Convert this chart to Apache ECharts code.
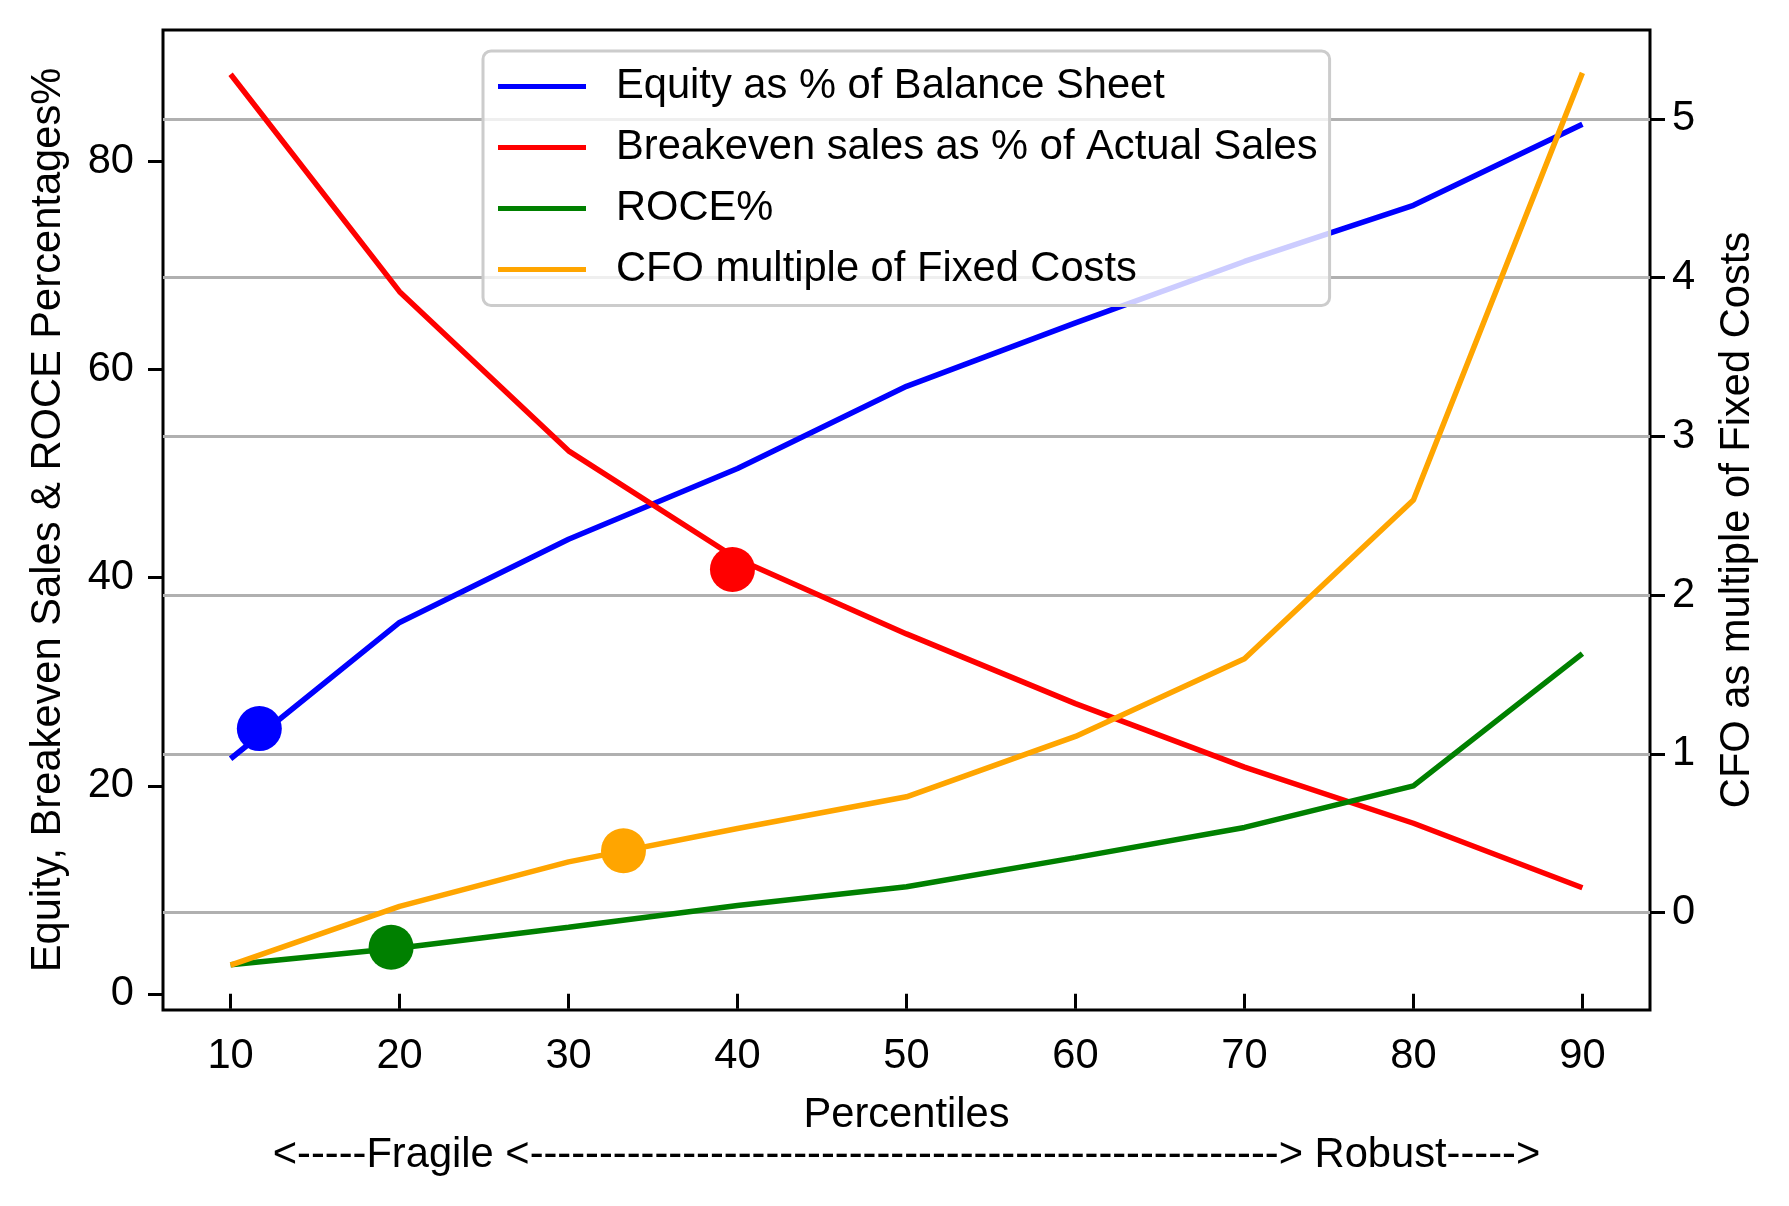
<!DOCTYPE html>
<html>
<head>
<meta charset="utf-8">
<title>Percentiles chart</title>
<script src="https://cdn.jsdelivr.net/npm/echarts@6/dist/echarts.min.js"></script>
<style>
  html, body { margin: 0; padding: 0; background: #fff; }
  #main { width: 1789px; height: 1206px; }
</style>
</head>
<body>
<div id="main"></div>
<script>
// values
var percentiles = [10, 20, 30, 40, 50, 60, 70, 80, 90];
var equity = [22.6, 35.7, 43.7, 50.5, 58.4, 64.5, 70.4, 75.8, 83.6];
var breakeven = [88.4, 67.5, 52.2, 41.8, 34.6, 27.9, 21.8, 16.4, 10.2];
var roce = [2.8, 4.4, 6.4, 8.5, 10.3, 13.1, 16.0, 20.0, 32.7];
var cfo = [-0.33, 0.04, 0.32, 0.53, 0.73, 1.11, 1.6, 2.6, 5.29];

// highlighted points: [x, y]
var equityDot = [11.7, 25.5];
var breakevenDot = [39.7, 40.8];
var roceDot = [19.5, 4.48];
var cfoDot = [33.25, 0.39];

var leftTicks = [0, 20, 40, 60, 80];
var rightTicks = [0, 1, 2, 3, 4, 5];

var names = ['Equity as % of Balance Sheet', 'Breakeven sales as % of Actual Sales', 'ROCE%', 'CFO multiple of Fixed Costs'];
var colors = ['#0000ff', '#ff0000', '#008000', '#ffa500'];

function pairs(ys) {
  var out = [];
  for (var i = 0; i < percentiles.length; i++) out.push([percentiles[i], ys[i]]);
  return out;
}

var FONT = 'Liberation Sans';
var FS = 41.67;

var myChart = echarts.init(document.getElementById('main'));

function lineSeries(idx, ys, axis) {
  return {
    name: names[idx],
    type: 'line',
    yAxisIndex: axis,
    data: pairs(ys),
    symbol: 'none',
    lineStyle: { color: colors[idx], width: 5.5 },
    itemStyle: { color: colors[idx] },
    z: axis === 1 ? 4 : 3
  };
}

function dot(idx, p, axis) {
  return {
    name: 'dot' + idx,
    type: 'scatter',
    yAxisIndex: axis,
    data: [p],
    symbolSize: 45,
    itemStyle: { color: colors[idx], opacity: 1 },
    z: axis === 1 ? 5 : 4
  };
}

var option = {
  animation: false,
  backgroundColor: '#fff',
  textStyle: { fontFamily: FONT },
  grid: {
    left: 163,
    right: 139,
    top: 30,
    bottom: 196,
    show: true,
    borderColor: '#000',
    borderWidth: 3,
    backgroundColor: 'transparent',
    containLabel: false
  },
  legend: {
    data: names,
    orient: 'vertical',
    left: 483,
    top: 51,
    icon: 'rect',
    itemWidth: 88,
    itemHeight: 5,
    itemGap: 19,
    padding: [14.5, 12, 15, 15],
    backgroundColor: 'rgba(255,255,255,0.8)',
    borderColor: '#cccccc',
    borderWidth: 3,
    borderRadius: 8,
    textStyle: { fontFamily: FONT, fontSize: FS, color: '#000', lineHeight: 42, padding: [0, 0, 0, 25] },
    z: 10
  },
  xAxis: {
    type: 'value',
    min: 6,
    max: 94,
    name: 'Percentiles\n<-----Fragile <------------------------------------------------------> Robust----->',
    nameLocation: 'middle',
    nameGap: 86,
    nameTextStyle: { fontFamily: FONT, fontSize: FS, color: '#000', lineHeight: 40 },
    axisLine: { show: false },
    axisTick: { show: true, customValues: percentiles, length: 15, lineStyle: { color: '#000', width: 3 } },
    axisLabel: { customValues: percentiles, margin: 27.5, fontFamily: FONT, fontSize: FS, color: '#000', lineHeight: 38 },
    splitLine: { show: false }
  },
  yAxis: [
    {
      type: 'value',
      position: 'left',
      min: -1.55,
      max: 92.65,
      name: 'Equity, Breakeven Sales & ROCE Percentages%',
      nameLocation: 'middle',
      nameRotate: 90,
      nameGap: 93,
      nameTextStyle: { fontFamily: FONT, fontSize: FS, color: '#000' },
      axisLine: { show: false },
      axisTick: { show: true, customValues: leftTicks, length: 15, lineStyle: { color: '#000', width: 3 } },
      axisLabel: { customValues: leftTicks, margin: 29, fontFamily: FONT, fontSize: FS, color: '#000' },
      splitLine: { show: false }
    },
    {
      type: 'value',
      position: 'right',
      min: -0.613,
      max: 5.56,
      name: 'CFO as multiple of Fixed Costs',
      nameLocation: 'middle',
      nameRotate: 90,
      nameGap: 66.5,
      nameTextStyle: { fontFamily: FONT, fontSize: FS, color: '#000' },
      axisLine: { show: false },
      axisTick: { show: true, customValues: rightTicks, length: 15, lineStyle: { color: '#000', width: 3 } },
      axisLabel: { customValues: rightTicks, margin: 22, fontFamily: FONT, fontSize: FS, color: '#000' },
      splitLine: { show: true, lineStyle: { color: '#b0b0b0', width: 3 } }
    }
  ],
  series: [
    lineSeries(0, equity, 0),
    lineSeries(1, breakeven, 0),
    lineSeries(2, roce, 0),
    dot(0, equityDot, 0),
    dot(1, breakevenDot, 0),
    dot(2, roceDot, 0),
    lineSeries(3, cfo, 1),
    dot(3, cfoDot, 1)
  ]
};
myChart.setOption(option);
</script>
</body>
</html>
